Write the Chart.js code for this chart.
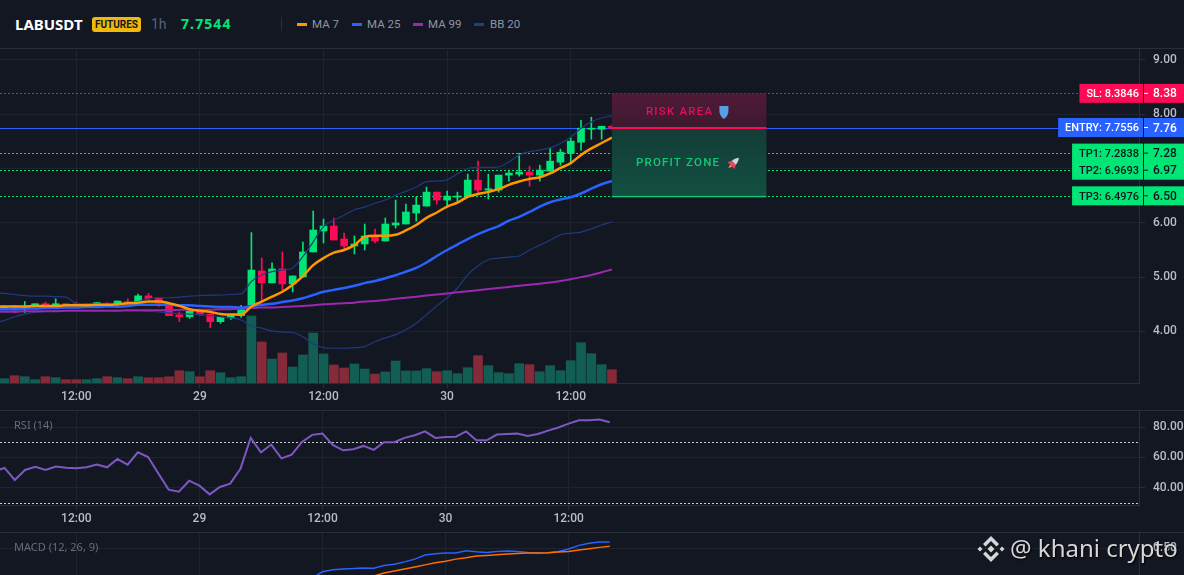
<!DOCTYPE html>
<html lang="en">
<head>
<meta charset="UTF-8">
<title>LABUSDT</title>
<script src="https://cdn.jsdelivr.net/npm/chart.js"></script>
<style>
  html, body { margin: 0; padding: 0; background: #131722; overflow: hidden; }
  body { width: 1184px; height: 575px; position: relative; font-family: Roboto, sans-serif; color: #b7bdc6; }
  .header { position: absolute; left: 0; top: 0; width: 1184px; height: 49px; border-bottom: 1px solid #2a2e39; box-sizing: border-box; }
  .header span, .header i { position: absolute; white-space: nowrap; font-style: normal; }
  .sym { left: 15px; top: 15px; font-size: 15px; font-weight: 700; color: #fff; font-family: "Noto Sans", sans-serif; line-height: 18px; }
  .badge { left: 92px; top: 17px; width: 49px; height: 15px; line-height: 15px; background: #f0b90b; color: #131722; border-radius: 3px; font-size: 10px; font-weight: 700; text-align: center; }
  .tf { left: 151px; top: 16px; font-size: 14px; color: #55617f; }
  .price { left: 181px; top: 15px; font-size: 14px; font-weight: 700; color: #00e676; letter-spacing: 1.1px; font-family: "Noto Sans", sans-serif; line-height: 18px; }
  .sep { left: 281px; top: 17px; width: 1px; height: 14px; background: #2a2e39; }
  .swatch { top: 23px; width: 10px; height: 3px; }
  .leg { top: 17px; font-size: 11.5px; color: #8f95a3; }
  .wrap { position: absolute; left: 0; }
  .title { position: absolute; left: 14px; font-size: 11px; color: #666c78; font-family: "Noto Sans", sans-serif; }
  .sepline { position: absolute; left: 0; width: 1184px; height: 1px; background: #2a2e39; }
  .mark { position: absolute; left: 977px; top: 535px; }
  .markt { position: absolute; left: 1010px; top: 532px; font-size: 24px; line-height: 32px; color: #d6d6d6; text-shadow: 1px 1px 2px #000; white-space: nowrap; font-family: "Noto Sans", sans-serif; }
</style>
</head>
<body>
<div class="header">
  <span class="sym">LABUSDT</span>
  <span class="badge">FUTURES</span>
  <span class="tf">1h</span>
  <span class="price">7.7544</span>
  <i class="sep"></i>
  <i class="swatch" style="left:297px;background:#ff9800"></i><span class="leg" style="left:312px">MA 7</span>
  <i class="swatch" style="left:352px;background:#2962ff"></i><span class="leg" style="left:367px">MA 25</span>
  <i class="swatch" style="left:413px;background:#9c27b0"></i><span class="leg" style="left:428px">MA 99</span>
  <i class="swatch" style="left:474px;background:#1e3f8a"></i><span class="leg" style="left:490px">BB 20</span>
</div>
<div class="wrap" style="top:48px;width:1184px;height:362px"><canvas id="mainChart"></canvas></div>
<div class="sepline" style="top:410px"></div>
<div class="wrap" style="top:411px;width:1184px;height:121px"><canvas id="rsiChart"></canvas></div>
<div class="sepline" style="top:532px"></div>
<div class="wrap" style="top:533px;width:1184px;height:42px"><canvas id="macdChart"></canvas></div>
<div class="title" style="top:417px">RSI (14)</div>
<div class="title" style="top:539px">MACD (12, 26, 9)</div>
<svg class="mark" width="28" height="28" viewBox="0 0 28 28" fill="#d6d6d6">
  <path d="M14 1 22 9 19.5 11.5 14 6 8.5 11.5 6 9Z"/><path d="M14 27 22 19 19.5 16.5 14 22 8.5 16.5 6 19Z"/>
  <path d="M14 10.5 17.5 14 14 17.5 10.5 14Z"/><path d="M3 11.5 5.5 14 3 16.5 .5 14Z"/><path d="M25 11.5 27.5 14 25 16.5 22.5 14Z"/>
</svg>
<div class="markt">@ khani crypto</div>

<script>
// x axis, candle index of each tick
const tickIndex = [7, 19, 31, 43, 55];
const tickLabels = ['12:00', '29', '12:00', '30', '12:00'];

// hourly candles
const open = [4.41,4.47,4.42,4.47,4.51,4.48,4.51,4.51,4.49,4.51,4.52,4.51,4.55,4.55,4.655,4.62,4.47,4.305,4.27,4.38,4.32,4.18,4.25,4.29,4.49,5.114,4.894,5.151,4.875,5.004,5.463,5.85,5.941,5.702,5.574,5.61,5.758,5.666,5.96,5.978,6.18,6.309,6.566,6.419,6.474,6.493,6.787,6.603,6.603,6.879,6.897,6.934,6.879,6.952,7.118,7.283,7.485,7.724,7.724,7.779];
const high = [4.47,4.48,4.55,4.51,4.54,4.60,4.51,4.54,4.51,4.53,4.53,4.56,4.60,4.69,4.70,4.62,4.52,4.36,4.38,4.38,4.32,4.26,4.32,4.48,5.82,5.353,5.261,5.463,5.022,5.647,6.217,6.07,6.088,5.813,5.758,5.978,5.886,6.088,6.419,6.346,6.474,6.658,6.566,6.585,6.566,6.897,7.136,6.897,6.879,6.971,7.283,7.044,7.063,7.375,7.357,7.559,7.89,7.945,7.779,7.80];
const low = [4.40,4.34,4.35,4.47,4.46,4.46,4.49,4.47,4.49,4.46,4.50,4.44,4.50,4.53,4.58,4.46,4.29,4.18,4.24,4.30,4.07,4.15,4.22,4.26,4.45,4.55,4.894,4.765,4.728,5.004,5.463,5.629,5.684,5.519,5.427,5.50,5.629,5.666,5.905,5.978,6.033,6.309,6.346,6.309,6.382,6.49,6.548,6.438,6.566,6.768,6.86,6.676,6.768,6.952,7.063,7.118,7.338,7.54,7.54,7.72];
const close = [4.46,4.42,4.44,4.51,4.47,4.51,4.49,4.50,4.51,4.53,4.51,4.56,4.51,4.655,4.60,4.52,4.29,4.27,4.38,4.305,4.18,4.26,4.30,4.40,5.13,4.894,5.151,4.875,5.022,5.463,5.868,5.941,5.684,5.574,5.61,5.758,5.666,5.978,5.997,6.199,6.327,6.566,6.419,6.493,6.493,6.787,6.603,6.627,6.879,6.916,6.934,6.879,6.971,7.136,7.301,7.504,7.743,7.743,7.779,7.743];
const volume = [4.3,7.3,6.3,3.3,6.3,5.3,3.3,3.3,3.3,4.3,6.3,5.3,4.3,6.3,5.3,5.3,6.3,12.3,11.3,6.3,12.3,10.3,5.3,6.3,67,41,24,30,16,28,50,29,18,15,19,14,9,11,22,12,12,14.3,11.3,12.3,9.3,15.3,27.3,17.3,10.3,9.3,19.3,18.3,11.3,17.3,12.3,22.3,40.3,29.3,18.3,13.3];

// indicators, first value is the candle just off the left edge
const ma7 = [4.46,4.46,4.46,4.46,4.47,4.47,4.47,4.48,4.48,4.48,4.49,4.49,4.50,4.52,4.53,4.55,4.55,4.52,4.47,4.41,4.38,4.36,4.32,4.31,4.31,4.46,4.55,4.64,4.73,4.86,5.02,5.22,5.35,5.45,5.50,5.59,5.74,5.76,5.76,5.78,5.86,5.96,6.09,6.19,6.30,6.37,6.48,6.53,6.57,6.62,6.70,6.76,6.81,6.84,6.91,7.01,7.10,7.25,7.37,7.47,7.57];
const ma25 = [4.41,4.41,4.41,4.42,4.42,4.43,4.43,4.44,4.44,4.45,4.45,4.46,4.46,4.47,4.49,4.49,4.49,4.49,4.48,4.48,4.47,4.46,4.45,4.45,4.44,4.47,4.49,4.51,4.54,4.57,4.61,4.67,4.73,4.765,4.80,4.84,4.89,4.93,4.98,5.035,5.10,5.17,5.27,5.39,5.50,5.60,5.70,5.79,5.87,5.94,6.04,6.11,6.20,6.30,6.38,6.43,6.47,6.54,6.63,6.71,6.77];
const ma99 = [4.36,4.36,4.36,4.37,4.37,4.37,4.37,4.38,4.38,4.38,4.38,4.38,4.38,4.39,4.39,4.39,4.39,4.39,4.40,4.40,4.40,4.40,4.41,4.41,4.42,4.43,4.44,4.44,4.45,4.46,4.47,4.48,4.50,4.51,4.52,4.53,4.55,4.56,4.58,4.60,4.62,4.64,4.66,4.68,4.70,4.72,4.74,4.76,4.78,4.80,4.82,4.84,4.86,4.88,4.90,4.93,4.96,5.00,5.04,5.09,5.14];
const bbUpper = [4.71,4.70,4.68,4.66,4.65,4.65,4.64,4.63,4.52,4.51,4.51,4.51,4.51,4.51,4.55,4.60,4.62,4.62,4.63,4.65,4.66,4.67,4.67,4.68,4.69,4.92,5.04,5.10,5.13,5.17,5.38,5.65,5.93,6.05,6.14,6.24,6.29,6.36,6.42,6.51,6.58,6.66,6.76,6.77,6.79,6.90,7.00,7.02,7.02,7.03,7.12,7.25,7.31,7.34,7.38,7.46,7.58,7.74,7.86,7.93,7.97];
const bbLower = [4.16,4.20,4.27,4.32,4.35,4.37,4.38,4.39,4.39,4.39,4.39,4.39,4.39,4.38,4.38,4.37,4.36,4.34,4.33,4.32,4.31,4.29,4.27,4.25,4.21,4.10,4.06,4.01,3.99,3.98,3.90,3.77,3.70,3.69,3.69,3.70,3.72,3.81,3.88,3.94,4.03,4.15,4.31,4.47,4.62,4.80,5.04,5.21,5.32,5.35,5.37,5.39,5.50,5.59,5.68,5.78,5.81,5.83,5.89,5.96,6.02];
const rsi = [51,53.1,45.2,51.8,53.8,51.8,54,53.3,52.9,53.5,55.3,53.5,59,55.3,63.4,60.3,49.4,38.8,37.5,44.7,41.4,35.7,40.6,42.8,52.6,72.9,63.4,68.5,59.4,61.9,70.2,74.9,75.7,68.3,64.7,65.4,67.6,65,70,70,72.9,74.6,77.2,72.9,73.5,73.7,77.2,71.3,71.3,75.1,75.5,75.7,74.2,75.5,77.7,79.7,82.3,84.5,84.5,85,83.2];
const macdLine = [null,null,null,null,null,null,null,null,null,null,null,null,null,null,null,null,null,null,null,null,null,null,null,null,null,null,null,null,null,null,null,0.131,0.21,0.235,0.244,0.248,0.256,0.2525,0.285,0.3025,0.331,0.365,0.415,0.431,0.44,0.44,0.469,0.456,0.4475,0.46,0.465,0.46,0.4475,0.44,0.444,0.46,0.49,0.535,0.56,0.5775,0.5775];
const macdSignal = [null,null,null,null,null,null,null,null,null,null,null,null,null,null,null,null,null,null,null,null,null,null,null,null,null,null,null,null,null,null,null,null,null,null,null,null,null,0.156,0.194,0.219,0.244,0.269,0.294,0.319,0.34,0.365,0.381,0.4025,0.41,0.419,0.4275,0.435,0.44,0.44,0.444,0.4525,0.46,0.4775,0.494,0.51,0.5225];

// trade levels
const levelNames = ['SL', 'ENTRY', 'TP1', 'TP2', 'TP3'];
const levelValues = [8.3846, 7.7556, 7.2838, 6.9693, 6.4976];
const levelAxis = ['8.38', '7.76', '7.28', '6.97', '6.50'];
const levelColors = ['#ff0a54', '#2962ff', '#00e676', '#00e676', '#00e676'];
const levelText = ['#ffffff', '#ffffff', '#11151f', '#11151f', '#11151f'];

const UP = '#00e676', DOWN = '#ff0a54';
const GRID = '#1f232e', AXIS = '#2a2e39', LABEL = '#b7bdc6';
const FONT = 'Roboto, sans-serif';
const isUp = i => close[i] >= open[i];

// pin the plot areas so the panels line up
function pin(scale, size) {
  if (scale.isHorizontal()) scale.height = size; else scale.width = size;
  scale.paddingTop = scale.paddingBottom = scale.paddingLeft = scale.paddingRight = 0;
}

function xAxis(min, max, size, showLabels) {
  return {
    type: 'linear', min, max, offset: false,
    afterBuildTicks: s => { s.ticks = tickIndex.map(v => ({ value: v })); },
    afterFit: s => pin(s, size),
    grid: { offset: false, color: GRID, tickColor: AXIS, tickLength: 5, drawTicks: showLabels },
    border: { color: AXIS },
    ticks: {
      display: showLabels, autoSkip: false, maxRotation: 0, color: LABEL, padding: 2,
      font: { family: FONT, size: 12, weight: '500' },
      callback: v => tickLabels[tickIndex.indexOf(v)]
    }
  };
}

function yAxis(min, max, values, fmt) {
  return {
    position: 'right', min, max,
    afterBuildTicks: s => { s.ticks = values.map(v => ({ value: v })); },
    afterFit: s => pin(s, 45),
    grid: { color: GRID, tickColor: AXIS, tickLength: 6 },
    border: { color: AXIS },
    ticks: { color: LABEL, padding: 8, font: { family: FONT, size: 12, weight: '500' }, callback: fmt }
  };
}

function line(values, color, width, smooth) {
  return {
    type: 'line', data: values.map((v, i) => ({ x: i - 1, y: v })),
    borderColor: color, borderWidth: width, pointRadius: 0, spanGaps: false,
    cubicInterpolationMode: smooth ? 'monotone' : 'default', tension: 0
  };
}

// stop levels, risk and profit boxes and the axis tags
const levelPlugin = {
  id: 'levels',
  beforeDatasetsDraw(chart) {
    const { ctx, chartArea: a, scales: { y } } = chart;
    ctx.save();
    levelValues.forEach((v, i) => {
      const py = Math.round(y.getPixelForValue(v)) + 0.5;
      ctx.strokeStyle = levelColors[i];
      ctx.lineWidth = i === 1 ? 1.2 : 1;
      ctx.setLineDash(i === 1 ? [] : [2, 2]);
      ctx.beginPath(); ctx.moveTo(a.left, py); ctx.lineTo(a.right, py); ctx.stroke();
    });
    ctx.restore();
  },
  afterDatasetsDraw(chart) {
    const { ctx, scales: { x, y } } = chart;
    const x0 = x.getPixelForValue(59), x1 = x.getPixelForValue(74);
    const top = y.getPixelForValue(levelValues[0]);
    const mid = y.getPixelForValue(levelValues[1]);
    const bot = y.getPixelForValue(levelValues[4]);
    ctx.save();
    let g = ctx.createLinearGradient(0, top, 0, mid);
    g.addColorStop(0, '#521a38'); g.addColorStop(1, '#3c1a2f');
    ctx.fillStyle = g; ctx.fillRect(x0, top, x1 - x0, mid - top);
    g = ctx.createLinearGradient(0, mid, 0, bot);
    g.addColorStop(0, '#123c37'); g.addColorStop(1, '#135041');
    ctx.fillStyle = g; ctx.fillRect(x0, mid, x1 - x0, bot - mid);
    ctx.fillStyle = DOWN; ctx.fillRect(x0, mid - 0.5, x1 - x0, 2);
    ctx.fillStyle = '#12c878'; ctx.fillRect(x0, bot, x1 - x0, 1.5);

    ctx.font = '500 11.5px ' + FONT;
    ctx.letterSpacing = '1.2px';
    ctx.textBaseline = 'middle';
    ctx.fillStyle = '#e0105a';
    ctx.fillText('RISK AREA', x0 + 34, (top + mid) / 2 + 2);
    ctx.fillStyle = '#12c878';
    ctx.fillText('PROFIT ZONE', x0 + 24, (mid + bot) / 2 + 1);
    ctx.letterSpacing = '0px';

    // shield
    const sx = x0 + 112, sy = (top + mid) / 2 - 4.5;
    ctx.fillStyle = '#5a9fe6';
    ctx.beginPath(); ctx.moveTo(sx - 4.5, sy); ctx.lineTo(sx + 4.5, sy); ctx.lineTo(sx + 4.5, sy + 6);
    ctx.quadraticCurveTo(sx + 3.5, sy + 11, sx, sy + 13); ctx.quadraticCurveTo(sx - 3.5, sy + 11, sx - 4.5, sy + 6);
    ctx.closePath(); ctx.fill();
    // rocket
    const rx = x0 + 122, ry = (mid + bot) / 2 + 1;
    ctx.translate(rx, ry); ctx.rotate(Math.PI / 4);
    ctx.fillStyle = '#cfd3dc';
    ctx.beginPath(); ctx.moveTo(0, -7); ctx.quadraticCurveTo(3.5, -3, 2.5, 3); ctx.lineTo(-2.5, 3); ctx.quadraticCurveTo(-3.5, -3, 0, -7); ctx.fill();
    ctx.fillStyle = '#e8436a';
    ctx.beginPath(); ctx.moveTo(-2.5, 0); ctx.lineTo(-5, 4); ctx.lineTo(5, 4); ctx.lineTo(2.5, 0); ctx.fill();
    ctx.fillStyle = '#f7931a';
    ctx.beginPath(); ctx.moveTo(-1.5, 4); ctx.lineTo(0, 8); ctx.lineTo(1.5, 4); ctx.fill();
    ctx.restore();
  },
  afterDraw(chart) {
    const { ctx, scales: { y } } = chart;
    ctx.save();
    ctx.textBaseline = 'middle';
    levelValues.forEach((v, i) => {
      const py = y.getPixelForValue(v);
      const label = levelNames[i] + ': ' + v.toFixed(4);
      ctx.font = '500 11px ' + FONT;
      const w = ctx.measureText(label).width + 11;
      ctx.fillStyle = levelColors[i];
      ctx.fillRect(1143 - w, py - 9.5, w, 19);
      ctx.fillRect(1144, py - 9.5, 40, 19);
      ctx.fillStyle = levelText[i];
      ctx.textAlign = 'right';
      ctx.fillText(label, 1139, py + 1);
      ctx.font = '500 12px ' + FONT;
      ctx.textAlign = 'left';
      ctx.fillText(levelAxis[i], 1153, py + 1);
      ctx.fillRect(1144, py - 0.5, 4, 1);
    });
    ctx.restore();
  }
};

new Chart(document.getElementById('mainChart'), {
  data: {
    datasets: [
      { type: 'bar', yAxisID: 'vol', order: 10, grouped: false, barThickness: 9,
        data: volume.map((v, i) => ({ x: i, y: v })),
        backgroundColor: c => isUp(c.dataIndex) ? '#125e55' : '#852a38' },
      { type: 'bar', order: 8, grouped: false, barThickness: 1,
        data: high.map((v, i) => ({ x: i, y: [low[i], v] })),
        backgroundColor: c => isUp(c.dataIndex) ? UP : DOWN },
      { type: 'bar', order: 7, grouped: false, barThickness: 7,
        data: open.map((v, i) => ({ x: i, y: [v, close[i]] })),
        backgroundColor: c => isUp(c.dataIndex) ? UP : DOWN },
      Object.assign(line(bbUpper, '#1e3a7e', 1.2, true), { order: 6 }),
      Object.assign(line(bbLower, '#1e3a7e', 1.2, true), { order: 5 }),
      Object.assign(line(ma99, '#9c27b0', 2, true), { order: 4 }),
      Object.assign(line(ma25, '#2962ff', 2.5, true), { order: 3 }),
      Object.assign(line(ma7, '#ff9800', 2.5, true), { order: 2 })
    ]
  },
  options: {
    responsive: true, maintainAspectRatio: false, animation: false,
    layout: { padding: 0 },
    plugins: { legend: { display: false }, tooltip: { enabled: false } },
    scales: {
      x: xAxis(-0.408, 110.17, 27, true),
      y: yAxis(3.05, 9.22, [4, 5, 6, 7, 8, 9], v => v.toFixed(2)),
      vol: { display: false, min: 0, max: 335 }
    }
  },
  plugins: [levelPlugin]
});

const guidePlugin = {
  id: 'guides',
  beforeDatasetsDraw(chart) {
    const { ctx, chartArea: a, scales: { y } } = chart;
    ctx.save();
    ctx.strokeStyle = '#c8ccd4';
    ctx.lineWidth = 1;
    ctx.setLineDash([2, 2]);
    [70, 30].forEach(v => {
      const py = Math.round(y.getPixelForValue(v)) + 0.5;
      ctx.beginPath(); ctx.moveTo(a.left, py); ctx.lineTo(a.right, py); ctx.stroke();
    });
    ctx.restore();
  }
};

new Chart(document.getElementById('rsiChart'), {
  data: { datasets: [line(rsi, '#7e57c2', 2, false)] },
  options: {
    responsive: true, maintainAspectRatio: false, animation: false,
    layout: { padding: 0 },
    plugins: { legend: { display: false }, tooltip: { enabled: false } },
    scales: {
      x: xAxis(-0.44, 110.6, 27, true),
      y: yAxis(28.7, 90.6, [40, 60, 80], v => v.toFixed(2))
    }
  },
  plugins: [guidePlugin]
});

new Chart(document.getElementById('macdChart'), {
  data: { datasets: [line(macdSignal, '#ff6d00', 1.5, false), line(macdLine, '#2962ff', 1.5, false)] },
  options: {
    responsive: true, maintainAspectRatio: false, animation: false,
    layout: { padding: 0 },
    plugins: { legend: { display: false }, tooltip: { enabled: false } },
    scales: {
      x: xAxis(-0.44, 110.6, 0, false),
      y: yAxis(0.169, 0.6875, [0.5], v => v.toFixed(2))
    }
  }
});
</script>
</body>
</html>
